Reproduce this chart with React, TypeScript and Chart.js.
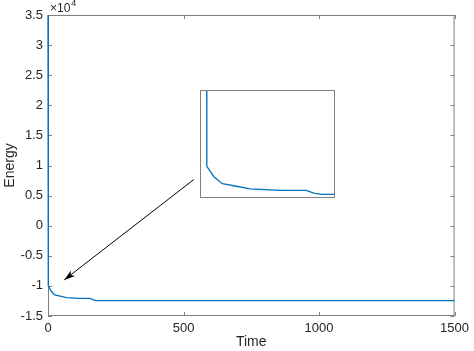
import React, { useEffect, useRef } from "react";
import { Chart, registerables } from "chart.js";

Chart.register(...registerables);

// Data (Energy in raw units, axis shows ×10^4)
const time = [0, 1, 12, 25, 45, 68, 114, 155, 168, 180, 300, 600, 900, 1200, 1500];
const energy = [35000, -10000, -10900, -11500, -11700, -11950, -12080, -12080, -12330, -12430, -12430, -12440, -12450, -12450, -12450];
const xTicks = [0, 500, 1000, 1500];
const yTicks = [-15000, -10000, -5000, 0, 5000, 10000, 15000, 20000, 25000, 30000, 35000];
// arrow annotation in data units: tail -> head
const arrowTail = { x: 538, y: 7670 };
const arrowHead = { x: 60, y: -9000 };
// inset zoom window (data units)
const insetX = [-8, 198];
const insetY = [-12650, -3500];

const LINE = "#0072BD";
const AXIS = "#808080";
const TEXT = "#262626";
const FONT = "'Liberation Sans', Arial, Helvetica, sans-serif";

const points = () => time.map((t, i) => ({ x: t, y: energy[i] }));

const boxPlugin = {
  id: "matlabBox",
  beforeDatasetsDraw(chart: any) {
    const { ctx, chartArea: a, scales } = chart;
    const xs = scales.x, ys = scales.y;
    ctx.save();
    ctx.strokeStyle = AXIS;
    ctx.lineWidth = 1;
    ctx.strokeRect(a.left + 0.5, a.top + 0.5, a.right - a.left - 1, a.bottom - a.top - 1);
    const tl = 4;
    ctx.beginPath();
    xTicks.forEach((v) => {
      const px = Math.round(xs.getPixelForValue(v)) + 0.5;
      ctx.moveTo(px, a.bottom); ctx.lineTo(px, a.bottom - tl);
      ctx.moveTo(px, a.top); ctx.lineTo(px, a.top + tl);
    });
    yTicks.forEach((v) => {
      const py = Math.round(ys.getPixelForValue(v)) + 0.5;
      ctx.moveTo(a.left, py); ctx.lineTo(a.left + tl, py);
      ctx.moveTo(a.right, py); ctx.lineTo(a.right - tl, py);
    });
    ctx.stroke();
    ctx.restore();
  },
  afterDraw(chart: any) {
    const { ctx, chartArea: a, scales } = chart;
    const xs = scales.x, ys = scales.y;
    ctx.save();
    // ×10^4 exponent label
    ctx.fillStyle = TEXT;
    ctx.textBaseline = "alphabetic";
    ctx.textAlign = "left";
    ctx.font = `12px ${FONT}`;
    ctx.fillText("\u00d710", a.left + 2, a.top - 3);
    const w = ctx.measureText("\u00d710").width;
    ctx.font = `9px ${FONT}`;
    ctx.fillText("4", a.left + 2 + w + 1, a.top - 9);

    // arrow
    const x1 = xs.getPixelForValue(arrowTail.x), y1 = ys.getPixelForValue(arrowTail.y);
    const x2 = xs.getPixelForValue(arrowHead.x), y2 = ys.getPixelForValue(arrowHead.y);
    ctx.strokeStyle = "#000";
    ctx.fillStyle = "#000";
    ctx.lineWidth = 1;
    ctx.beginPath();
    ctx.moveTo(x1, y1); ctx.lineTo(x2, y2);
    ctx.stroke();
    const ang = Math.atan2(y2 - y1, x2 - x1);
    const L = 11, W = 3.5;
    const bx = x2 - L * Math.cos(ang), by = y2 - L * Math.sin(ang);
    const bx2 = x2 - (L - 3) * Math.cos(ang), by2 = y2 - (L - 3) * Math.sin(ang);
    ctx.beginPath();
    ctx.moveTo(x2, y2);
    ctx.lineTo(bx + W * Math.sin(ang), by - W * Math.cos(ang));
    ctx.lineTo(bx2, by2);
    ctx.lineTo(bx - W * Math.sin(ang), by + W * Math.cos(ang));
    ctx.closePath();
    ctx.fill();
    ctx.restore();
  },
};

export default function App() {
  const mainRef = useRef<HTMLCanvasElement | null>(null);
  const insetRef = useRef<HTMLCanvasElement | null>(null);

  useEffect(() => {
    const main = new Chart(mainRef.current as HTMLCanvasElement, {
      type: "line",
      data: {
        datasets: [
          {
            data: points(),
            borderColor: LINE,
            borderWidth: 1.3,
            pointRadius: 0,
            tension: 0,
            fill: false,
            clip: 3,
          },
        ],
      },
      options: {
        animation: false,
        responsive: false,
        events: [],
        layout: { padding: { top: 15, right: 16, left: 0, bottom: 0 } },
        plugins: { legend: { display: false }, tooltip: { enabled: false } },
        scales: {
          x: {
            type: "linear",
            min: 0,
            max: 1500,
            afterBuildTicks: (s: any) => { s.ticks = xTicks.map((v) => ({ value: v })); },
            ticks: {
              color: TEXT,
              font: { size: 13, family: FONT },
              padding: 5,
              maxRotation: 0,
              autoSkip: false,
              callback: (v: any) => String(v),
            },
            grid: { display: false, drawTicks: false },
            border: { display: false },
            title: { display: true, text: "Time", color: TEXT, font: { size: 14, family: FONT }, padding: 0 },
            afterFit: (s: any) => { s.height = 35; },
          },
          y: {
            type: "linear",
            min: -15000,
            max: 35000,
            afterBuildTicks: (s: any) => { s.ticks = yTicks.map((v) => ({ value: v })); },
            ticks: {
              color: TEXT,
              font: { size: 13, family: FONT },
              padding: 5,
              autoSkip: false,
              callback: (v: any) => String(Math.round(Number(v) / 1000) / 10),
            },
            grid: { display: false, drawTicks: false },
            border: { display: false },
            title: { display: true, text: "Energy", color: TEXT, font: { size: 14, family: FONT }, padding: { top: 2, bottom: 0 } },
            afterFit: (s: any) => { s.width = 48; },
          },
        },
      } as any,
      plugins: [boxPlugin],
    });

    const inset = new Chart(insetRef.current as HTMLCanvasElement, {
      type: "line",
      data: {
        datasets: [
          {
            data: points(),
            borderColor: LINE,
            borderWidth: 1.3,
            pointRadius: 0,
            tension: 0,
            fill: false,
          },
        ],
      },
      options: {
        animation: false,
        responsive: false,
        events: [],
        layout: { padding: 0 },
        plugins: { legend: { display: false }, tooltip: { enabled: false } },
        scales: {
          x: { type: "linear", min: insetX[0], max: insetX[1], display: false },
          y: { type: "linear", min: insetY[0], max: insetY[1], display: false },
        },
      } as any,
    });

    return () => {
      main.destroy();
      inset.destroy();
    };
  }, []);

  return (
    <div style={{ position: "absolute", left: 0, top: 0, width: 474, height: 351, background: "#fff" }}>
      <canvas ref={mainRef} width={474} height={351} style={{ position: "absolute", left: 0, top: 0 }} />
      <div
        style={{
          position: "absolute",
          left: 200,
          top: 90,
          width: 135,
          height: 108,
          border: `1px solid ${AXIS}`,
          boxSizing: "border-box",
          background: "#fff",
        }}
      >
        <canvas ref={insetRef} width={133} height={106} style={{ display: "block" }} />
      </div>
    </div>
  );
}
